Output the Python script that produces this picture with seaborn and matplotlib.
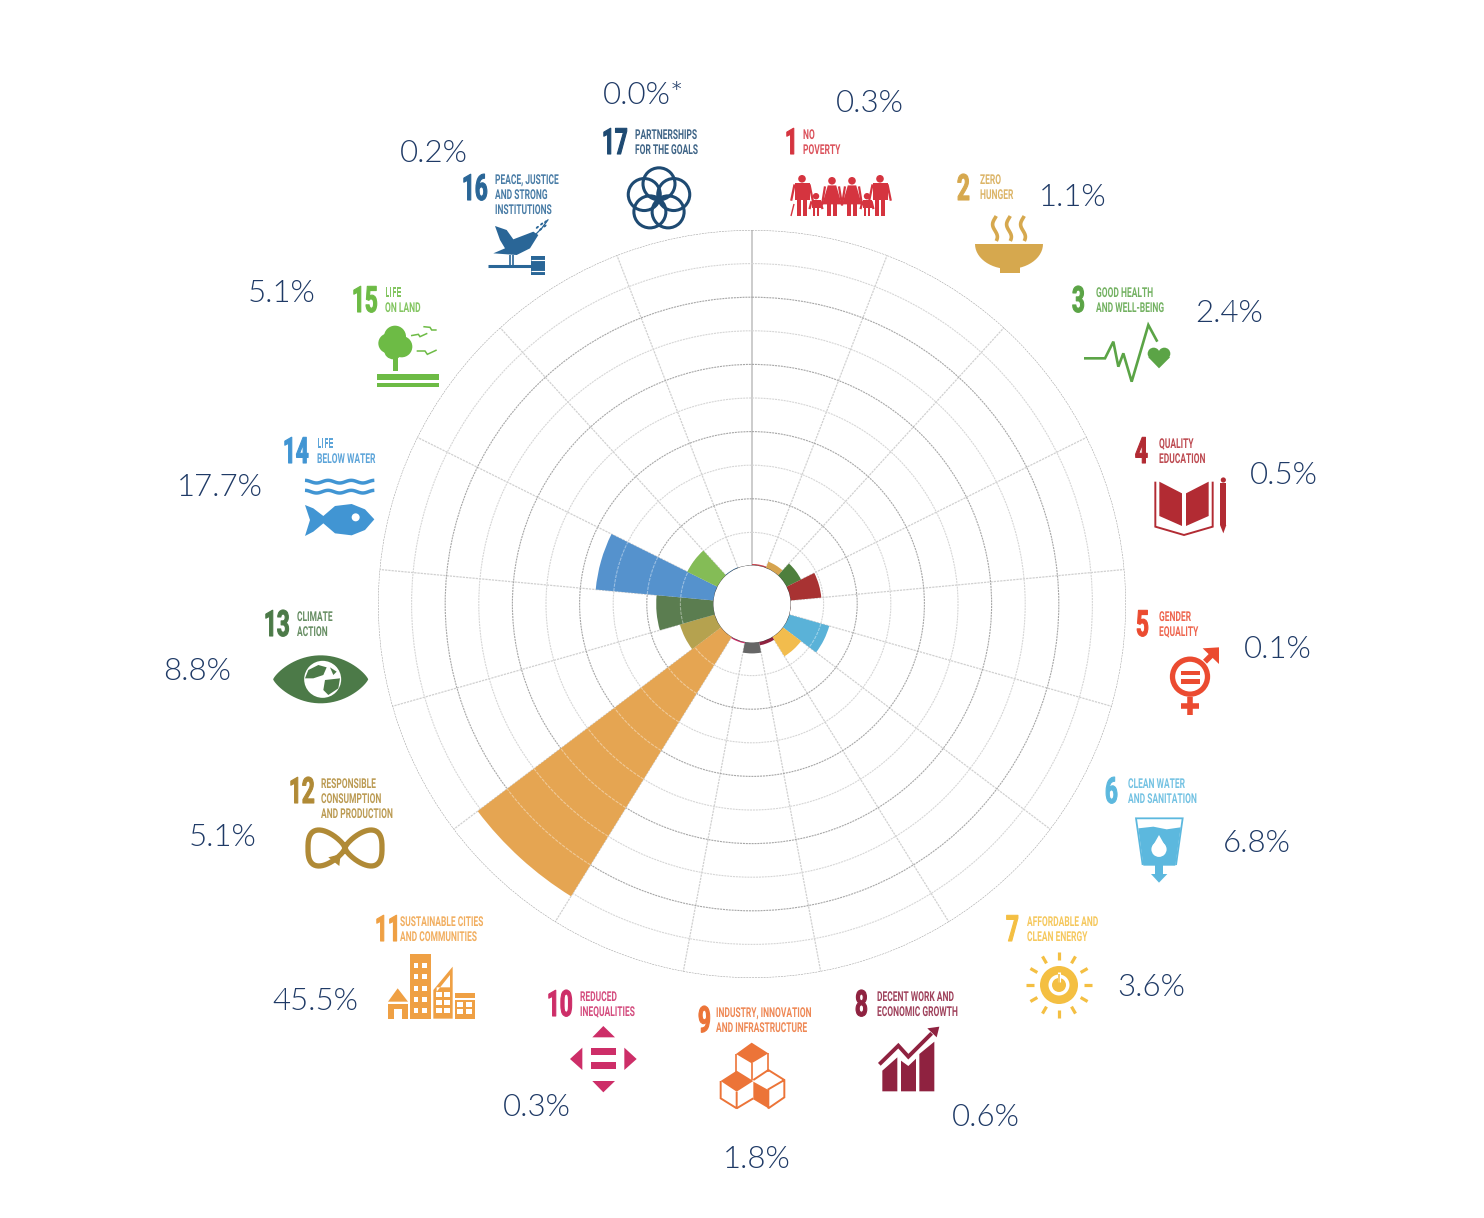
import numpy as np
import pandas as pd
import matplotlib
matplotlib.use("Agg")
import matplotlib.pyplot as plt
import matplotlib.patheffects as pe
from matplotlib.patches import Polygon, Circle, Rectangle, Ellipse
from matplotlib.transforms import Affine2D, Bbox
import seaborn as sns

# ---------------- data ----------------
goal_numbers = ["1", "2", "3", "4", "5", "6", "7", "8", "9", "10", "11", "12", "13", "14", "15", "16", "17"]
goal_titles = [
    ["NO", "POVERTY"], ["ZERO", "HUNGER"], ["GOOD HEALTH", "AND WELL-BEING"], ["QUALITY", "EDUCATION"],
    ["GENDER", "EQUALITY"], ["CLEAN WATER", "AND SANITATION"], ["AFFORDABLE AND", "CLEAN ENERGY"],
    ["DECENT WORK AND", "ECONOMIC GROWTH"], ["INDUSTRY, INNOVATION", "AND INFRASTRUCTURE"],
    ["REDUCED", "INEQUALITIES"], ["SUSTAINABLE CITIES", "AND COMMUNITIES"],
    ["RESPONSIBLE", "CONSUMPTION", "AND PRODUCTION"], ["CLIMATE", "ACTION"], ["LIFE", "BELOW WATER"],
    ["LIFE", "ON LAND"], ["PEACE, JUSTICE", "AND STRONG", "INSTITUTIONS"], ["PARTNERSHIPS", "FOR THE GOALS"],
]
bar_values = [0.3, 1.1, 2.5, 4.7, 0.1, 6.3, 3.5, 0.6, 1.7, 0.3, 45.5, 5.5, 8.6, 17.7, 5.1, 0.2, 0.0]
share_labels = ["0.3%", "1.1%", "2.4%", "0.5%", "0.1%", "6.8%", "3.6%", "0.6%", "1.8%", "0.3%", "45.5%",
                "5.1%", "8.8%", "17.7%", "5.1%", "0.2%", "0.0%*"]
bar_colors = ["#C9444E", "#D6A44F", "#4E7F3D", "#A83232", "#E0604A", "#5AB2D8", "#F2BC4D", "#8F2240",
              "#666666", "#CD2E68", "#E5A552", "#B5A24F", "#5B7D50", "#5592CD", "#84BC56", "#3A78AE", "#1E4A72"]
icon_colors = ["#D5343F", "#D6A84E", "#5BA446", "#B22B33", "#EB4B30", "#5CB8DE", "#F4BF42", "#8F2240",
               "#EC7438", "#CD2E68", "#EFA044", "#B08A36", "#4C7A48", "#4195D3", "#6DBB45", "#2A6697", "#1E4A72"]

# layout of the surrounding text, in pixels of the 1484x1218 canvas
number_x = [785, 957, 1072, 1135, 1136, 1105, 1006, 855, 698, 547, 375, 289, 264, 283, 352, 462, 602]
number_y = [141, 187, 299, 450, 623, 790, 928, 1003, 1019, 1003, 928, 790, 623, 450, 299, 187, 141]
title_x = [803, 980, 1096, 1159, 1159, 1128, 1027, 877, 716, 580, 400, 321, 297, 317, 385, 495, 635]
title_y = [134, 179, 292, 443, 616, 783, 921, 996, 1012, 996, 921, 783, 616, 443, 292, 179, 134]
share_x = [870, 1073, 1229, 1284, 1278, 1257, 1151, 986, 757, 537, 315, 223, 197, 220, 282, 434, 644]
share_y = [101, 194, 310, 473, 646, 840, 985, 1114, 1156, 1105, 999, 834, 668, 485, 291, 151, 93]

W, H = 1484, 1218
CX, CY, R_OUT, R_HOLE = 752, 604, 374, 38
R_MAX = 50.0
sns.set_theme(style="white")
plt.rcParams["font.family"] = ["Lato", "DejaVu Sans"]

fig = plt.figure(figsize=(W / 100, H / 100), dpi=100, facecolor="white")
ax = fig.add_axes([(CX - R_OUT) / W, (H - CY - R_OUT) / H, 2 * R_OUT / W, 2 * R_OUT / H], projection="polar")

n = len(goal_numbers)
step = 2 * np.pi / n
theta = (np.arange(n) + 0.5) * step
df = pd.DataFrame({"theta": theta, "value": bar_values, "goal": goal_numbers})
sns.barplot(data=df, x="theta", y="value", hue="goal", hue_order=goal_numbers,
            palette=bar_colors, native_scale=True, width=1.0, gap=0, dodge=False,
            errorbar=None, legend=False, orient="x", saturation=1, linewidth=0, ax=ax)

ax.set_theta_zero_location("N")
ax.set_theta_direction(-1)
ax.set_xlim(0, 2 * np.pi)
ax.set_rorigin(-R_HOLE / (R_OUT - R_HOLE) * R_MAX)
ax.set_ylim(0, R_MAX)
ax.set_xlabel("")
ax.set_ylabel("")
ax.set_xticks(np.arange(n) * step)
ax.set_xticklabels([])
ax.set_yticks(np.arange(10, 51, 10))
ax.set_yticks(np.arange(5, 50, 10), minor=True)
ax.set_yticklabels([])
ax.tick_params(axis="both", which="both", length=0)
ax.set_axisbelow(True)
for sp in ax.spines.values():
    sp.set_visible(False)
ax.patch.set_alpha(0)
dash = (0, (1.8, 0.8))
ax.xaxis.grid(True, color="#d0d0d0", lw=0.9, ls=dash)
ax.yaxis.grid(True, which="major", color="#a6a6a6", lw=0.8, ls=dash)
ax.yaxis.grid(True, which="minor", color="#d6d6d6", lw=0.8, ls=dash)
gl0 = ax.xaxis.get_gridlines()[0]
gl0.set_linestyle("-")
gl0.set_color("#c4c4c4")
gl0.set_linewidth(1.2)
# rings stay faintly visible through the wedges
for th, v in zip(theta, bar_values):
    for ring in np.arange(5, v - 1, 5):
        ax.plot(np.linspace(th - step / 2, th + step / 2, 24), np.full(24, ring), color="white",
                lw=0.8, alpha=0.4, ls=(0, (3, 1)), zorder=5)


# ---------------- overlay in pixel coordinates ----------------
class Squeeze(pe.AbstractPathEffect):
    """Draw the glyphs of a text narrower, since no condensed family is installed."""
    def __init__(self, sx, stroke=0.0):
        super().__init__()
        self.sx = sx
        self.stroke = stroke

    def draw_path(self, renderer, gc, tpath, affine, rgbFace=None):
        g = renderer.new_gc()
        g.copy_properties(gc)
        if self.stroke:
            g.set_linewidth(self.stroke)
            g.set_foreground(rgbFace)
        renderer.draw_path(g, tpath, Affine2D().scale(self.sx, 1) + affine, rgbFace)
        g.restore()


def condensed(t, sx, stroke=0.0):
    t.set_path_effects([Squeeze(sx, stroke)])
    orig = t.get_window_extent

    def extent(renderer=None, dpi=None):
        bb = orig(renderer, dpi)
        return Bbox.from_extents(bb.x0, bb.y0, bb.x0 + bb.width * sx, bb.y1)
    t.get_window_extent = extent


ov = fig.add_axes([0, 0, 1, 1], facecolor="none")
ov.set_xlim(0, W)
ov.set_ylim(H, 0)
ov.axis("off")
ov.add_patch(Circle((CX, CY), R_HOLE + 0.6, fc="white", ec="none"))

for i in range(n):
    c = icon_colors[i]
    t = ov.text(number_x[i], number_y[i] + 13, goal_numbers[i], color=c, fontsize=26, fontweight="bold",
                family=["Roboto", "DejaVu Sans"], ha="left", va="baseline")
    condensed(t, 0.62, 0.8)
    for j, line in enumerate(goal_titles[i]):
        t = ov.text(title_x[i], title_y[i] + j * 15 + 5, line, color=c, fontsize=9.8,
                    family=["Roboto", "DejaVu Sans"], ha="left", va="baseline",
                    fontweight="bold", alpha=0.85)
        condensed(t, 0.62)
    ov.text(share_x[i], share_y[i], share_labels[i], color="#1F3A66", fontsize=22.5, fontweight=300,
            ha="center", va="center_baseline")


def Z(ox, oy, pts):
    return [(ox + x / 3, oy + y / 3) for x, y in pts]


def poly(pts, c, **k):
    ov.add_patch(Polygon(pts, closed=True, fc=c, ec="none", **k))


def oline(pts, c, lw=1.5, **k):
    p = np.array(pts)
    ov.plot(p[:, 0], p[:, 1], color=c, lw=lw, solid_capstyle=k.pop("cap", "butt"), solid_joinstyle="miter", **k)


def rect(x0, y0, x1, y1, c):
    ov.add_patch(Rectangle((x0, y0), x1 - x0, y1 - y0, fc=c, ec="none"))


def circ(x, y, r, c):
    ov.add_patch(Circle((x, y), r, fc=c, ec="none"))


# 1 no poverty
c = icon_colors[0]
def person(x, top, bottom, w, dress=False):
    head = 3.8 if w > 10 else 3.2
    circ(x, top + head, head, c)
    t = top + 2 * head + 0.8
    hip = t + (bottom - t) * (0.62 if dress else 0.5)
    if dress:
        poly([(x - w * 0.3, t), (x + w * 0.3, t), (x + w * 0.7, hip), (x - w * 0.7, hip)], c)
    else:
        poly([(x - w * 0.5, t), (x + w * 0.5, t), (x + w * 0.5, hip), (x - w * 0.5, hip)], c)
    rect(x - w * 0.36, hip, x - w * 0.06, bottom, c)
    rect(x + w * 0.06, hip, x + w * 0.36, bottom, c)
    oline([(x - w * 0.5, t + 1), (x - w * 0.72, hip + 1)], c, 1.6)
    oline([(x + w * 0.5, t + 1), (x + w * 0.72, hip + 1)], c, 1.6)
person(802, 175, 216, 15)
person(816, 193, 216, 9)
person(832, 177, 216, 14, True)
person(852, 177, 216, 14, True)
person(867, 193, 216, 9)
person(880, 175, 216, 15)
oline([(794, 204), (791, 216)], c, 1)

# 2 zero hunger
c = icon_colors[1]
t = np.linspace(0, np.pi, 30)
poly([(1009 + 34 * np.cos(a), 244 + 25 * np.sin(a)) for a in t], c)
rect(1000, 266, 1020, 273, c)
for sx in (995, 1009, 1023):
    yy = np.linspace(216, 241, 24)
    oline(np.c_[sx + 2.4 * np.sin((yy - 216) / 25 * 2 * np.pi + 2.6), yy], c, 2.6)

# 3 health
c = icon_colors[2]
oline(Z(1060, 270, [(72, 265), (135, 265), (160, 215), (175, 290), (190, 250), (215, 335), (265, 165), (292, 215)]), c, 1.9)
circ(1060 + 281 / 3, 270 + 251 / 3, 6, c)
circ(1060 + 313 / 3, 270 + 251 / 3, 6, c)
poly(Z(1060, 270, [(265, 262), (297, 295), (330, 262), (297, 245)]), c)

# 4 education
c = icon_colors[3]
poly(Z(1060, 270, [(298, 635), (366, 670), (366, 768), (298, 738)]), c)
poly(Z(1060, 270, [(378, 670), (446, 635), (446, 738), (378, 768)]), c)
oline(Z(1060, 270, [(286, 635), (286, 770), (372, 795), (458, 770), (458, 635)]), c, 1.4)
rect(1060 + 480 / 3, 270 + 640 / 3, 1060 + 499 / 3, 270 + 765 / 3, c)
poly(Z(1060, 270, [(480, 765), (499, 765), (490, 790)]), c)
circ(1060 + 490 / 3, 270 + 630 / 3, 2.6, c)

# 5 gender
c = icon_colors[4]
ov.add_patch(Circle((1090 + 300 / 3, 600 + 230 / 3), 17.5, fc="none", ec=c, lw=3.8))
rect(1181, 670.5, 1200, 675, c)
rect(1181, 679, 1200, 683.5, c)
oline(Z(1090, 600, [(300, 290), (300, 345)]), c, 4)
oline(Z(1090, 600, [(272, 318), (328, 318)]), c, 4)
oline(Z(1090, 600, [(345, 185), (372, 158)]), c, 4)
poly(Z(1090, 600, [(338, 145), (387, 142), (387, 192)]), c)

# 6 water
c = icon_colors[5]
oline(Z(1090, 600, [(158, 795), (138, 655), (278, 655), (258, 795)]), c, 1.3)
poly(Z(1090, 600, [(145, 685), (190, 680), (230, 688), (272, 682), (256, 797), (160, 797)]), c)
circ(1090 + 207 / 3, 600 + 748 / 3, 7.6, "white")
poly(Z(1090, 600, [(207, 705), (186, 742), (228, 742)]), "white")
rect(1090 + 196 / 3, 865, 1090 + 219 / 3, 600 + 825 / 3, c)
poly(Z(1090, 600, [(183, 822), (232, 822), (207, 848)]), c)

# 7 energy
c = icon_colors[6]
sx, sy = 840 + 657 / 3, 900 + 255 / 3
circ(sx, sy, 19, c)
circ(sx, sy, 10.5, "white")
circ(sx, sy, 7, c)
oline([(sx, sy - 13), (sx, sy - 3)], "white", 2.2)
oline([(sx, sy - 11), (sx, sy - 2)], c, 1.1)
for a in np.deg2rad(np.arange(0, 360, 30)):
    oline([(sx + 25 * np.cos(a), sy + 25 * np.sin(a)), (sx + 33 * np.cos(a), sy + 33 * np.sin(a))], c, 2.3)

# 8 growth
c = icon_colors[7]
poly(Z(840, 900, [(127, 512), (172, 472), (172, 574), (127, 574)]), c)
poly(Z(840, 900, [(183, 482), (205, 498), (228, 476), (228, 574), (183, 574)]), c)
poly(Z(840, 900, [(238, 462), (283, 425), (283, 574), (238, 574)]), c)
oline(Z(840, 900, [(118, 493), (175, 437), (205, 470), (275, 400)]), c, 2.8)
poly(Z(840, 900, [(262, 385), (298, 380), (290, 412)]), c)

# 9 industry
c = icon_colors[8]
O = (540, 980)
oline(Z(*O, [(588, 222), (588, 280)]), c, 1.2)
oline(Z(*O, [(685, 220), (685, 275)]), c, 1.2)
oline(Z(*O, [(635, 250), (635, 300)]), c, 1.2)
poly(Z(*O, [(635, 188), (685, 220), (635, 250), (588, 222)]), c)
poly(Z(*O, [(590, 272), (640, 303), (590, 335), (542, 303)]), c)
oline(Z(*O, [(542, 303), (542, 355), (590, 385), (590, 335)]), c, 1.4)
oline(Z(*O, [(590, 385), (640, 355)]), c, 1.4)
poly(Z(*O, [(640, 305), (685, 330), (685, 385), (640, 358)]), c)
oline(Z(*O, [(640, 300), (685, 270), (733, 300), (733, 352), (685, 385), (685, 328), (733, 300)]), c, 1.4)

# 10 inequalities
c = icon_colors[9]
poly(Z(*O, [(190, 138), (225, 172), (157, 172)]), c)
poly(Z(*O, [(157, 303), (225, 303), (190, 337)]), c)
poly(Z(*O, [(90, 237), (127, 203), (127, 270)]), c)
poly(Z(*O, [(253, 203), (253, 270), (290, 237)]), c)
poly(Z(*O, [(153, 203), (227, 203), (227, 224), (153, 224)]), c)
poly(Z(*O, [(153, 247), (227, 247), (227, 268), (153, 268)]), c)

# 11 cities
c = icon_colors[10]
O = (280, 760)
poly(Z(*O, [(390, 582), (452, 582), (452, 776), (390, 776)]), c)
for wy in (610, 643, 677, 710, 743):
    for wx in (402, 427):
        poly(Z(*O, [(wx, wy), (wx + 13, wy), (wx + 13, wy + 15), (wx, wy + 15)]), "white")
poly(Z(*O, [(324, 725), (353, 685), (384, 725)]), c)
poly(Z(*O, [(324, 733), (384, 733), (384, 776), (324, 776)]), c)
poly(Z(*O, [(342, 748), (365, 748), (365, 776), (342, 776)]), "white")
poly(Z(*O, [(460, 690), (518, 620), (518, 776), (460, 776)]), c)
poly(Z(*O, [(470, 695), (510, 645), (510, 682), (470, 682)]), "white")
for wy in (695, 720, 745):
    for wx in (468, 492):
        poly(Z(*O, [(wx, wy), (wx + 18, wy), (wx + 18, wy + 15), (wx, wy + 15)]), "white")
poly(Z(*O, [(524, 698), (584, 698), (584, 776), (524, 776)]), c)
poly(Z(*O, [(524, 714), (584, 714), (584, 720), (524, 720)]), "white")
for wy in (727, 748):
    for wx in (532, 558):
        poly(Z(*O, [(wx, wy), (wx + 18, wy), (wx + 18, wy + 14), (wx, wy + 14)]), "white")

# 12 consumption
c = icon_colors[11]
t = np.linspace(0, 2 * np.pi, 160)
s2 = np.sin(2 * t)
lx = 345 + 37 * np.sin(t)
ly = 848 + 18 * np.sign(s2) * np.abs(s2) ** 0.7
oline(np.c_[lx, ly], c, 3.8)
poly(Z(280, 760, [(145, 292), (182, 282), (178, 318)]), c)

# 13 climate
c = icon_colors[12]
O = (255, 430)
t = np.linspace(0, np.pi, 40)
top = [(255 + 197 / 3 - 47.5 * np.cos(a), 430 + 748 / 3 - 24 * np.sin(a) ** 1.6) for a in t]
bot = [(255 + 197 / 3 + 47.5 * np.cos(a), 430 + 748 / 3 + 24 * np.sin(a) ** 1.6) for a in t]
poly(top + bot, c)
circ(255 + 203 / 3, 430 + 748 / 3, 18.5, "white")
poly(Z(*O, [(160, 720), (190, 705), (215, 712), (205, 735), (175, 745), (150, 745)]), c)
poly(Z(*O, [(210, 750), (255, 745), (250, 775), (220, 795), (205, 780)]), c)
poly(Z(*O, [(225, 712), (245, 725), (235, 735)]), c)

# 14 life below water
c = icon_colors[13]
for wy in (155, 185):
    xx = np.linspace(150, 358, 60)
    oline(Z(*O, np.c_[xx, wy + 4 * np.cos((xx - 150) / 208 * 3 * 2 * np.pi + np.pi)]), c, 2.5)
poly(Z(*O, [(150, 225), (175, 235), (205, 258), (240, 228), (290, 222), (330, 238), (358, 268), (330, 300),
            (290, 316), (240, 310), (205, 280), (175, 305), (150, 318), (165, 270)]), c)
circ(255 + 302 / 3, 430 + 262 / 3, 4, "white")

# 15 life on land
c = icon_colors[14]
O = (340, 275)
for bx, by, br in ((165, 185, 33), (145, 205, 30), (185, 215, 32), (160, 225, 28)):
    circ(340 + bx / 3, 275 + by / 3, br / 3, c)
poly(Z(*O, [(160, 250), (175, 250), (175, 288), (160, 288)]), c)
poly(Z(*O, [(110, 298), (298, 298), (298, 315), (110, 315)]), c)
poly(Z(*O, [(110, 323), (298, 323), (298, 337), (110, 337)]), c)
for b in ([(213, 182), (235, 178), (240, 185), (262, 175)], [(250, 155), (270, 157), (275, 165), (290, 165)],
          [(230, 228), (255, 228), (262, 238), (290, 225)]):
    oline(Z(*O, b), c, 1.1)

# 16 peace
c = icon_colors[15]
O = (450, 120)
poly(Z(*O, [(135, 318), (170, 330), (190, 358), (250, 335), (265, 345), (240, 385), (200, 405), (130, 400),
            (165, 385), (150, 360)]), c)
oline(Z(*O, [(115, 437), (245, 437)]), c, 2.2)
poly(Z(*O, [(243, 408), (285, 408), (285, 465), (243, 465)]), c)
oline(Z(*O, [(243, 420), (285, 420)]), "white", 0.8)
oline(Z(*O, [(243, 452), (285, 452)]), "white", 0.8)
oline(Z(*O, [(180, 405), (180, 435)]), c, 1.2)
oline(Z(*O, [(190, 405), (190, 435)]), c, 1.2)
oline(Z(*O, [(255, 345), (275, 325), (295, 298)]), c, 0.9)
for lfx, lfy in ((262, 322), (275, 312), (287, 305), (272, 328), (285, 318)):
    ov.add_patch(Ellipse((450 + lfx / 3, 120 + lfy / 3), 3.6, 2, angle=-40, fc=c, ec="none"))

# 17 partnerships
c = icon_colors[16]
px, py = 450 + 627 / 3, 120 + 238 / 3
for a in np.deg2rad(90 + 72 * np.arange(5)):
    ov.add_patch(Circle((px + 15.5 * np.cos(a), py - 15.5 * np.sin(a)), 16, fc="none", ec=c, lw=2.2))

fig.savefig("out.png", dpi=100, facecolor="white")
